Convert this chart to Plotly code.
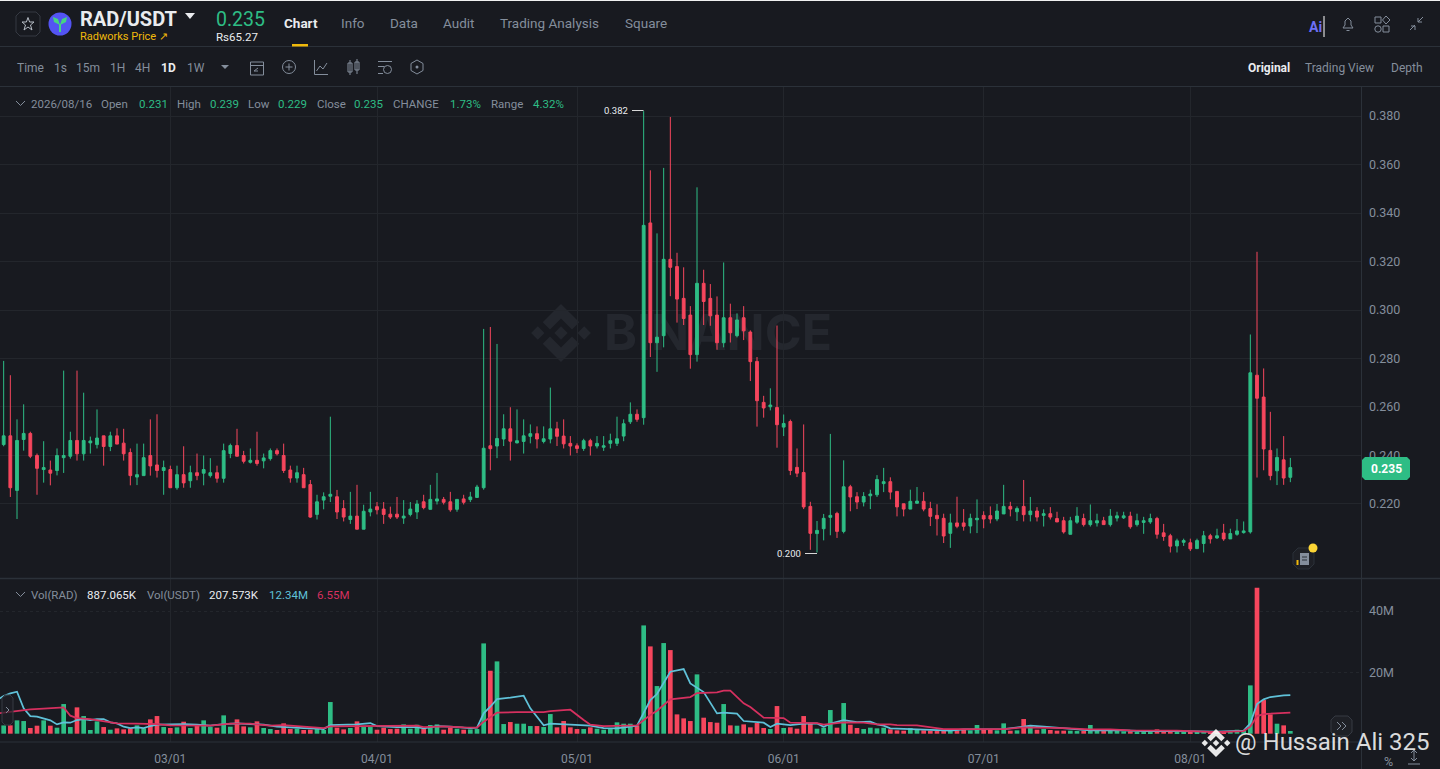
import plotly.graph_objects as go
import pandas as pd

W, H = 1440, 769
BG = "#181A20"
GRID = "#23262C"
SEP = "#2B3139"
GREEN = "#2EBD85"
RED = "#F6465D"
GRAY = "#848E9C"
FONT = "Roboto"

# daily candles, 2026-02-04 to 2026-08-16
start_date = "2026-02-04"
opens = [
    .2445, .2481, .2256, .2466, .2491, .2400, .2342, .2340, .2338, .2391,
    .2397, .2462, .2407, .2452, .2445, .2481, .2437, .2481, .2451, .2412,
    .2311, .2317, .2400, .2361, .2338, .2342, .2267, .2321, .2296, .2329,
    .2327, .2317, .2329, .2306, .2408, .2441, .2400, .2372, .2380, .2378,
    .2387, .2420, .2400, .2340, .2307, .2321, .2280, .2157, .2216, .2232,
    .2230, .2181, .2136, .2150, .2096, .2167, .2189, .2179, .2158, .2158,
    .2142, .2157, .2167, .2209, .2178, .2212, .2219, .2209, .2178, .2221,
    .2218, .2227, .2267, .2440, .2439, .2468, .2510, .2452, .2458, .2479,
    .2490, .2458, .2468, .2510, .2480, .2450, .2440, .2429, .2461, .2439,
    .2434, .2450, .2450, .2480, .2539, .2570, .2556, .3359, .2865, .2894,
    .3209, .3179, .3048, .2979, .2816, .3110, .3048, .2979, .2865, .2968,
    .2894, .2968, .2909, .2788, .2619, .2601, .2598, .2517, .2540, .2351,
    .2330, .2190, .2078, .2098, .2145, .2161, .2087, .2271, .2230, .2208,
    .2234, .2238, .2284, .2292, .2252, .2201, .2179, .2203, .2211, .2181,
    .2153, .2141, .2079, .2122, .2122, .2109, .2135, .2153, .2152, .2138,
    .2159, .2190, .2168, .2190, .2156, .2171, .2153, .2160, .2140, .2131,
    .2075, .2125, .2140, .2115, .2122, .2131, .2115, .2142, .2143, .2150,
    .2115, .2124, .2126, .2140, .2081, .2069, .2027, .2042, .2040, .2016,
    .2037, .2069, .2060, .2080, .2056, .2075, .2082, .2085, .2731, .2641,
    .2421, .2337, .2382, .2310,
]
highs = [
    .2790, .2731, .2549, .2611, .2498, .2408, .2459, .2379, .2429, .2750,
    .2498, .2750, .2659, .2478, .2590, .2481, .2498, .2512, .2510, .2429,
    .2449, .2449, .2549, .2570, .2379, .2358, .2358, .2438, .2358, .2408,
    .2400, .2389, .2358, .2449, .2449, .2510, .2419, .2429, .2498, .2408,
    .2429, .2429, .2449, .2358, .2358, .2349, .2299, .2238, .2248, .2560,
    .2258, .2216, .2250, .2279, .2197, .2250, .2208, .2208, .2189, .2229,
    .2216, .2208, .2216, .2238, .2279, .2328, .2229, .2250, .2219, .2238,
    .2250, .2279, .2922, .2930, .2860, .2570, .2599, .2590, .2549, .2528,
    .2520, .2520, .2680, .2539, .2549, .2480, .2450, .2469, .2469, .2480,
    .2480, .2490, .2560, .2549, .2619, .2590, .3820, .3576, .3316, .3586,
    .3796, .3236, .3176, .3016, .3506, .3166, .3107, .3056, .3196, .3026,
    .2986, .3016, .2916, .2806, .2646, .2677, .2936, .2569, .2548, .2429,
    .2528, .2209, .2130, .2159, .2489, .2168, .2380, .2279, .2249, .2249,
    .2259, .2319, .2349, .2310, .2252, .2201, .2259, .2270, .2249, .2209,
    .2199, .2160, .2160, .2230, .2179, .2160, .2219, .2170, .2190, .2200,
    .2279, .2209, .2190, .2299, .2229, .2187, .2178, .2187, .2168, .2147,
    .2147, .2187, .2160, .2198, .2160, .2147, .2179, .2168, .2168, .2168,
    .2160, .2147, .2160, .2147, .2118, .2077, .2057, .2057, .2057, .2057,
    .2089, .2077, .2098, .2118, .2098, .2138, .2128, .2899, .3240, .2759,
    .2580, .2429, .2480, .2390,
]
lows = [
    .2438, .2229, .2138, .2420, .2389, .2238, .2288, .2277, .2318, .2328,
    .2387, .2379, .2379, .2408, .2429, .2358, .2418, .2447, .2379, .2277,
    .2278, .2317, .2317, .2309, .2238, .2267, .2259, .2267, .2267, .2298,
    .2277, .2309, .2288, .2288, .2389, .2397, .2367, .2367, .2358, .2347,
    .2379, .2400, .2328, .2288, .2288, .2267, .2143, .2136, .2178, .2208,
    .2138, .2128, .2118, .2096, .2096, .2149, .2157, .2118, .2138, .2138,
    .2118, .2149, .2138, .2178, .2178, .2198, .2198, .2168, .2168, .2198,
    .2208, .2227, .2259, .2339, .2389, .2439, .2379, .2450, .2408, .2450,
    .2429, .2450, .2450, .2439, .2429, .2400, .2410, .2419, .2400, .2429,
    .2419, .2429, .2439, .2459, .2530, .2539, .2527, .2806, .2745, .2846,
    .3057, .2948, .2938, .2758, .2787, .2938, .2935, .2836, .2846, .2866,
    .2887, .2876, .2707, .2519, .2556, .2586, .2432, .2480, .2319, .2311,
    .2179, .2011, .2000, .2050, .2071, .2060, .2079, .2170, .2179, .2190,
    .2179, .2229, .2249, .2219, .2149, .2149, .2179, .2201, .2170, .2109,
    .2070, .2039, .2019, .2100, .2090, .2079, .2080, .2100, .2120, .2129,
    .2159, .2149, .2130, .2128, .2128, .2128, .2107, .2136, .2126, .2078,
    .2075, .2118, .2107, .2107, .2107, .2115, .2107, .2128, .2138, .2098,
    .2107, .2077, .2118, .2057, .2048, .2000, .2000, .2027, .2006, .2016,
    .2000, .2037, .2056, .2048, .2056, .2069, .2078, .2078, .2309, .2339,
    .2298, .2278, .2279, .2290,
]
closes = [
    .2481, .2267, .2462, .2491, .2397, .2347, .2350, .2327, .2400, .2400,
    .2462, .2407, .2462, .2460, .2472, .2437, .2481, .2447, .2407, .2317,
    .2321, .2391, .2357, .2338, .2350, .2267, .2321, .2287, .2329, .2317,
    .2342, .2329, .2306, .2420, .2441, .2397, .2376, .2380, .2367, .2390,
    .2420, .2407, .2338, .2307, .2329, .2267, .2146, .2209, .2230, .2240,
    .2167, .2146, .2150, .2096, .2170, .2179, .2176, .2157, .2146, .2146,
    .2150, .2179, .2200, .2185, .2219, .2221, .2207, .2176, .2219, .2207,
    .2229, .2270, .2430, .2428, .2470, .2510, .2459, .2461, .2481, .2490,
    .2468, .2469, .2510, .2479, .2448, .2439, .2429, .2461, .2439, .2450,
    .2440, .2461, .2469, .2531, .2570, .2549, .3349, .2865, .2888, .3209,
    .3176, .3045, .2965, .2816, .3110, .3035, .2976, .2865, .2968, .2906,
    .2959, .2914, .2787, .2626, .2596, .2608, .2527, .2532, .2338, .2327,
    .2188, .2079, .2091, .2141, .2153, .2087, .2271, .2229, .2208, .2231,
    .2241, .2301, .2292, .2249, .2188, .2179, .2211, .2212, .2179, .2149,
    .2139, .2068, .2122, .2108, .2108, .2141, .2141, .2138, .2138, .2171,
    .2190, .2179, .2181, .2156, .2171, .2146, .2160, .2146, .2126, .2085,
    .2131, .2150, .2115, .2131, .2131, .2115, .2150, .2151, .2151, .2106,
    .2131, .2131, .2140, .2075, .2066, .2026, .2048, .2049, .2015, .2049,
    .2069, .2056, .2069, .2056, .2078, .2089, .2089, .2741, .2636, .2427,
    .2317, .2392, .2307, .2350,
]
# volume in millions
volumes = [
    2.7, 2.72, 4.35, 4.13, 1.85, 2.61, 4.35, 2.61, 1.96, 9.67,
    2.17, 8.59, 5.76, 1.2, 4.02, 2.17, 1.3, 1.74, 1.41, 1.74,
    2.72, 1.74, 4.67, 5.76, 2.17, 1.85, 2.07, 3.91, 1.85, 2.5,
    4.35, 2.17, 1.96, 5.98, 2.28, 4.67, 2.39, 2.07, 4.02, 1.85,
    1.52, 1.2, 3.37, 1.52, 1.63, 1.2, 1.3, 1.52, 1.2, 10.33,
    1.96, 1.41, 1.85, 4.02, 2.17, 2.17, 1.3, 1.96, 1.52, 1.63,
    3.04, 1.63, 2.93, 1.52, 2.83, 3.04, 1.3, 1.96, 1.63, 1.3,
    1.41, 1.52, 29.46, 20.54, 23.59, 3.15, 3.8, 3.26, 3.26, 2.5,
    2.5, 2.17, 6.41, 2.07, 4.13, 2.07, 1.52, 1.52, 2.07, 1.63,
    1.3, 1.52, 3.7, 3.26, 3.26, 2.72, 35.33, 28.48, 15.54, 29.57,
    27.28, 6.3, 5.0, 4.13, 19.35, 5.22, 3.8, 3.59, 9.67, 2.72,
    2.61, 3.04, 2.07, 3.48, 1.85, 1.52, 9.02, 1.85, 2.07, 1.63,
    5.76, 3.15, 1.63, 1.96, 7.72, 1.96, 10.0, 2.93, 1.85, 1.52,
    1.96, 1.74, 1.96, 1.41, 1.09, .98, 1.85, 1.3, 1.09, .98,
    .87, .98, .98, 1.09, 1.2, 1.09, 2.83, 1.52, 1.3, 1.09,
    3.37, .98, 1.09, 4.78, 2.61, 1.3, 1.52, 1.2, .98, .98,
    .98, .87, .98, 2.83, 1.3, .87, .98, .87, .76, .76,
    .65, .65, .65, 1.41, 1.09, .98, .65, .65, .65, .65,
    .87, .65, .65, .65, .76, 1.3, .98, 15.76, 47.6, 10.98,
    6.3, 3.26, 2.72, .89,
]
# averages, at the days where they bend
ma_fast_days = [
    -1, 0, 1, 2, 3, 4, 5, 6, 7, 8, 9, 10, 11, 12, 13, 14, 15, 16, 17, 18, 19, 20, 21, 22, 23,
    25, 27, 29, 31, 33, 35, 37, 39, 41, 43, 45, 47, 48, 49, 51, 53, 55, 56, 59, 62, 63, 65, 67, 69,
    70, 71, 72, 73, 74, 76, 78, 79, 81, 82, 85, 88, 90, 92, 95, 96, 97, 98, 100, 102, 103, 105,
    107, 108, 110, 111, 114, 115, 116, 118, 120, 122, 123, 124, 126, 128, 130, 131, 132, 133,
    136, 139, 142, 144, 147, 150, 153, 154, 156, 159, 163, 167, 171, 176, 182, 186, 187, 188,
    189, 190, 191, 192, 193,
]
ma_fast = [
    10.98, 12.3, 13.15, 13.7, 8.26, 5.76, 5.54, 5.0, 4.35, 3.04, 3.7, 3.59, 4.46, 4.78, 4.46, 4.78,
    4.78, 3.7, 3.37, 2.28, 1.85, 2.07, 1.85, 2.5, 2.93,
    3.04, 3.15, 2.93, 2.61, 3.15, 3.37, 3.15, 2.93, 2.28, 2.17, 1.85, 1.63, 1.52, 2.83, 2.83, 3.04,
    3.48, 2.5, 2.17, 2.17, 1.74, 2.5, 2.28, 1.96,
    1.85, 1.96, 6.63, 8.8, 11.3, 11.74, 12.39, 8.26, 2.72, 3.26, 3.04, 2.61, 1.85, 1.74, 2.61, 6.63,
    10.98, 12.94, 20.22, 21.09, 16.41, 13.59,
    6.63, 6.85, 6.52, 4.13, 3.59, 2.17, 3.26, 2.83, 3.26, 3.37, 2.28, 3.26, 4.46, 3.8, 3.91, 3.04,
    2.61, 1.74,
    1.52, 1.2, .98, 1.41, 1.52, 1.52, 2.28, 2.61, 2.28, 1.74, 1.09, 1.2, .87, .87, .65, .98, 3.37, 9.67,
    11.2, 11.96, 12.28, 12.5, 12.6,
]
ma_slow_days = [
    -1, 2, 4, 6, 9, 10, 11, 13, 15, 17, 20, 23, 25, 27, 31, 34, 37, 40, 42, 45, 48, 49, 52, 55, 56,
    59, 62, 63, 66, 69,
    70, 71, 72, 74, 77, 81, 82, 85, 87, 88, 90, 95, 97, 98, 100, 103, 104, 107, 108, 109, 111, 112,
    114, 116, 117, 118, 122, 123, 126, 129, 131, 133, 134, 137, 139, 141,
    144, 147, 150, 153, 156, 159, 163, 166, 169, 173, 176, 182, 186, 187, 188, 189, 191, 193,
]
ma_slow = [
    6.63, 7.5, 7.94, 8.15, 8.59, 5.87, 5.11, 4.78, 4.02, 3.37, 3.26, 3.15, 2.72, 2.61, 2.61, 3.26,
    3.26, 2.61, 2.83, 2.28, 1.85, 2.39, 2.39, 2.61, 2.61,
    2.61, 2.61, 2.17, 2.39, 2.07,
    2.07, 1.96, 3.91, 6.85, 7.07, 7.07, 7.39, 7.83, 4.46, 2.93, 2.5, 2.72, 6.09, 7.5, 11.2, 11.96,
    13.26, 13.48, 14.02, 14.02, 9.89, 8.7,
    5.22, 5.0, 5.11, 3.59, 3.48, 2.93, 3.7, 3.59, 3.04, 3.04, 2.83, 2.72, 2.07, 1.52,
    1.52, 1.63, 1.52, 2.07, 1.96, 1.85, 1.41, 1.41, 1.09, 1.09, .98, .54, .87, 2.28, 5.76, 6.41, 6.74, 6.85,
]
month_ticks = ["2026-03-01", "2026-04-01", "2026-05-01", "2026-06-01", "2026-07-01", "2026-08-01"]
month_labels = ["03/01", "04/01", "05/01", "06/01", "07/01", "08/01"]
price_ticks = [0.22, 0.24, 0.26, 0.28, 0.30, 0.32, 0.34, 0.36, 0.38]
vol_ticks = [20, 40]
vol_labels = ["20M", "40M"]

dates = pd.date_range(start_date, periods=len(closes), freq="D")
t0 = pd.Timestamp(start_date)
vol_colors = [GREEN if c >= o else RED for o, c in zip(opens, closes)]
x_range = [t0 - pd.Timedelta(days=0.55), t0 + pd.Timedelta(days=203.6)]


def day(n):
    return t0 + pd.Timedelta(days=n)


def fx(x):
    return x / W


def fy(y):
    return 1 - y / H


shapes = []
notes = []


def txt(x, y, s, color=GRAY, size=12, anchor="left", bold=False):
    # annotations sit about 1px right of the asked position
    notes.append(dict(x=fx(x - 1), y=fy(y), xref="paper", yref="paper", text=f"<b>{s}</b>" if bold else s,
                      showarrow=False, xanchor=anchor, yanchor="middle", borderpad=0,
                      font=dict(family=FONT, size=size, color=color)))


def line(x0, y0, x1, y1, color=GRAY, w=1, layer="above"):
    shapes.append(dict(type="line", xref="paper", yref="paper", x0=fx(x0), y0=fy(y0), x1=fx(x1), y1=fy(y1),
                       line=dict(color=color, width=w), layer=layer))


def rect(x0, y0, x1, y1, fill=None, color=None, w=1, layer="above"):
    shapes.append(dict(type="rect", xref="paper", yref="paper", x0=fx(x0), y0=fy(y0), x1=fx(x1), y1=fy(y1),
                       fillcolor=fill or "rgba(0,0,0,0)", line=dict(color=color or "rgba(0,0,0,0)", width=w if color else 0),
                       layer=layer))


def circle(cx, cy, r, fill=None, color=None, w=1):
    rect_shape = dict(type="circle", xref="paper", yref="paper", x0=fx(cx - r), y0=fy(cy - r), x1=fx(cx + r), y1=fy(cy + r),
                      fillcolor=fill or "rgba(0,0,0,0)", line=dict(color=color or "rgba(0,0,0,0)", width=w if color else 0))
    shapes.append(rect_shape)


def poly(points, fill=None, color=None, w=1, closed=True, layer="above"):
    d = "M " + " L ".join(f"{fx(a):.5f} {fy(b):.5f}" for a, b in points)
    if closed:
        d += " Z"
    shapes.append(dict(type="path", xref="paper", yref="paper", path=d, fillcolor=fill or "rgba(0,0,0,0)",
                       line=dict(color=color or "rgba(0,0,0,0)", width=w if color else 0), layer=layer))


def round_rect(x0, y0, x1, y1, r, fill=None, color=None, w=1, layer="above"):
    # corners are cut, good enough at this size
    pts = [(x0 + r, y0), (x1 - r, y0), (x1, y0 + r), (x1, y1 - r), (x1 - r, y1), (x0 + r, y1), (x0, y1 - r), (x0, y0 + r)]
    poly(pts, fill, color, w, layer=layer)


def logo(cx, cy, s, color, layer="above"):
    for dx in (-0.8, 0, 0.8):
        c = cx + dx * s
        d = 0.23 * s
        poly([(c, cy - d), (c + d, cy), (c, cy + d), (c - d, cy)], fill=color, layer=layer)
    for sign in (1, -1):
        pts = [(0, 1), (-.63, .37), (-.38, .12), (0, .5), (.38, .12), (.63, .37)]
        poly([(cx + a * s, cy + sign * b * s) for a, b in pts], fill=color, layer=layer)


# panel furniture
rect(0, 0, W, 1, fill="#F0F0F0")
line(0, 46.5, W, 46.5, SEP)
line(0, 86.5, W, 86.5, SEP)
line(0, 578.5, W, 578.5, SEP, w=1.5)
line(0, 742, 1361.5, 742, SEP)
line(1361.5, 87, 1361.5, H, SEP)

# watermark goes under the candles
logo(561, 333, 29, "#24272E", layer="below")
shapes.append(dict(type="rect", xref="paper", yref="paper", x0=fx(600), y0=fy(307), x1=fx(836), y1=fy(353), layer="below",
                   line=dict(width=0), fillcolor="rgba(0,0,0,0)",
                   label=dict(text="<b>BINANCE</b>", textposition="middle center",
                              font=dict(family="Inter", size=50, color="#24272E"))))

# header row
round_rect(16, 12, 40, 36, 4, color="#363A43")
star = [(28, 17.5), (29.6, 22), (34, 22), (30.5, 25), (32, 30), (28, 27), (24, 30), (25.5, 25), (22, 22), (26.4, 22)]
poly(star, color="#B7BDC6")
circle(60, 24, 11.5, fill="#5354F3")
line(60, 32, 60, 24, "#45D483", 2)
poly([(60, 25), (54, 22), (53, 17), (58, 19)], fill="#45D483")
poly([(60, 25), (66, 22), (67, 17), (62, 19)], fill="#45D483")
txt(80, 19, "RAD/USDT", "#EAECEF", 20, bold=True)
poly([(185, 13), (195, 13), (190, 19)], fill="#EAECEF")
txt(80, 37, "Radworks Price ↗", "#F0B90B", 11)
txt(216, 19, "0.235", GREEN, 19.5)
txt(216, 37, "Rs65.27", "#EAECEF", 11.5)
txt(284, 23, "Chart", "#EAECEF", 13.5, bold=True)
for x, s in [(341, "Info"), (390, "Data"), (443, "Audit"), (500, "Trading Analysis"), (625, "Square")]:
    txt(x, 23, s, GRAY, 13.5)
rect(292, 44, 308, 46.5, fill="#F0B90B")
txt(1309, 27, "Ai", "#6C6FF5", 14, bold=True)
line(1324, 16, 1324, 37, "#FFFFFF", 1)
# bell
poly([(1343, 28), (1345, 25), (1345, 21), (1348, 18), (1351, 21), (1351, 25), (1353, 28)], color=GRAY)
line(1346.5, 30.5, 1349.5, 30.5, GRAY)
# grid
rect(1375, 17, 1381, 23, color=GRAY)
poly([(1386, 16), (1390, 20), (1386, 24), (1382.5, 20)], color=GRAY)
circle(1378, 29, 3.2, color=GRAY)
rect(1383, 26, 1389, 32, color=GRAY)
# collapse arrows
line(1410, 30, 1415, 25, GRAY)
line(1418, 22, 1423, 17, GRAY)
poly([(1418, 18), (1418, 22), (1422, 22)], color=GRAY, closed=False)
poly([(1411, 26), (1415, 26), (1415, 30)], color=GRAY, closed=False)

# toolbar row
for x, s in [(17, "Time"), (54, "1s"), (76, "15m"), (110, "1H"), (135, "4H"), (187, "1W")]:
    txt(x, 68, s, GRAY, 12)
txt(161, 68, "1D", "#EAECEF", 12, bold=True)
poly([(221, 65), (229, 65), (225, 69)], fill=GRAY)
rect(250.5, 62, 263.5, 75, color=GRAY)
line(250.5, 65.5, 263.5, 65.5, GRAY)
poly([(258, 68), (254, 71), (258, 71)], color=GRAY, closed=False)
circle(289, 67, 6.5, color=GRAY)
line(285.5, 67, 292.5, 67, GRAY)
line(289, 63.5, 289, 70.5, GRAY)
poly([(314.5, 60), (314.5, 74.5), (328, 74.5)], color=GRAY, closed=False)
poly([(316.5, 71), (320, 66), (323, 69), (327, 63)], color=GRAY, closed=False)
rect(348, 63, 352, 72, color=GRAY)
line(350, 60, 350, 75, GRAY)
rect(355, 62, 359, 70, color=GRAY)
line(357, 59, 357, 74, GRAY)
line(378, 61.5, 392, 61.5, GRAY)
line(378, 66.5, 384, 66.5, GRAY)
line(378, 73.5, 383, 73.5, GRAY)
circle(387.5, 69.5, 4, color=GRAY)
poly([(417, 60), (423, 63.5), (423, 70.5), (417, 74), (411, 70.5), (411, 63.5)], color=GRAY)
circle(417, 67, 1.5, fill=GRAY)
txt(1248, 68, "Original", "#EAECEF", 12, bold=True)
txt(1305, 68, "Trading View", GRAY, 12)
txt(1391, 68, "Depth", GRAY, 12)

# price legend
poly([(16, 101), (20.5, 105.5), (25, 101)], color=GRAY, closed=False)
legend_row = [(31, "2026/08/16", GRAY), (101, "Open", GRAY), (139, "0.231", GREEN), (177, "High", GRAY), (210, "0.239", GREEN),
              (248, "Low", GRAY), (278, "0.229", GREEN), (317, "Close", GRAY), (354, "0.235", GREEN), (393, "CHANGE", GRAY),
              (450, "1.73%", GREEN), (491, "Range", GRAY), (533, "4.32%", GREEN)]
for x, s, c in legend_row:
    txt(x, 104, s, c, 11.5)

# high / low tags
txt(604, 110.5, "0.382", "#EAECEF", 9.5)
line(632, 110.5, 643.5, 110.5, "#D8D8D8")
txt(777, 553.5, "0.200", "#EAECEF", 9.5)
line(805, 553.5, 817, 553.5, "#D8D8D8")

# last price tag
round_rect(1362, 457, 1410, 480, 3, fill=GREEN)
txt(1387, 468.5, "0.235", "#FFFFFF", 12, anchor="center", bold=True)

# floating note button
round_rect(1293, 548, 1314, 569, 5, fill="#1E2026", color="#2B3139")
rect(1300, 553, 1309, 565, fill="#848E9C")
line(1302, 557, 1307, 557, "#2B3139")
line(1302, 560, 1307, 560, "#2B3139")
rect(1296.5, 560, 1298.5, 565, fill="#F0B90B")
circle(1313, 548, 4.5, fill="#FCD535")

# volume legend
poly([(16, 592), (20.5, 596.5), (25, 592)], color=GRAY, closed=False)
for x, s, c in [(31, "Vol(RAD)", GRAY), (87, "887.065K", "#EAECEF"), (147, "Vol(USDT)", GRAY), (209, "207.573K", "#EAECEF"),
                (269, "12.34M", "#5FC1D8"), (317, "6.55M", "#D6305F")]:
    txt(x, 595, s, c, 11.5)

# little side buttons
round_rect(2, 695, 13, 725, 3, fill="rgba(30,32,38,.7)", color="#363A43")
poly([(6, 707), (9, 710), (6, 713)], color=GRAY, closed=False)
round_rect(1331, 716, 1352, 736, 4, fill="#1E2026", color="#363A43")
poly([(1337, 722), (1341, 726), (1337, 730)], color=GRAY, closed=False)
poly([(1342, 722), (1346, 726), (1342, 730)], color=GRAY, closed=False)

# bottom corner
txt(1389, 761, "%", GRAY, 12.5, anchor="center")
line(1414, 750, 1414, 761, GRAY)
poly([(1411, 753), (1414, 750), (1417, 753)], color=GRAY, closed=False)
poly([(1411, 758), (1414, 761), (1417, 758)], color=GRAY, closed=False)
line(1408, 764, 1420, 764, GRAY)

# repost stamp
logo(1216, 743, 14, "rgba(255,255,255,.9)")
txt(1235, 741.5, "@ Hussain Ali 325", "rgba(255,255,255,.85)", 24)

fig = go.Figure()
fig.add_trace(go.Candlestick(
    x=dates, open=opens, high=highs, low=lows, close=closes, xaxis="x", yaxis="y",
    increasing=dict(line=dict(color=GREEN, width=1), fillcolor=GREEN),
    decreasing=dict(line=dict(color=RED, width=1), fillcolor=RED),
    hoverinfo="skip", showlegend=False,
))
fig.add_trace(go.Bar(x=dates, y=volumes, marker=dict(color=vol_colors, line=dict(width=0)), width=0.7 * 86400000,
                     xaxis="x2", yaxis="y2", hoverinfo="skip", showlegend=False))
fig.add_trace(go.Scatter(x=[day(n) for n in ma_fast_days], y=ma_fast, mode="lines", line=dict(color="#5FC1D8", width=1.75),
                         xaxis="x2", yaxis="y2", hoverinfo="skip", showlegend=False))
fig.add_trace(go.Scatter(x=[day(n) for n in ma_slow_days], y=ma_slow, mode="lines", line=dict(color="#D6305F", width=1.75),
                         xaxis="x2", yaxis="y2", hoverinfo="skip", showlegend=False))

fig.update_layout(
    width=W, height=H, margin=dict(l=0, r=0, t=0, b=0), paper_bgcolor=BG, plot_bgcolor="rgba(0,0,0,0)",
    font=dict(family=FONT, color=GRAY, size=12), showlegend=False, shapes=shapes, annotations=notes, boxgap=0.4,
    xaxis=dict(domain=[0, 1361 / W], anchor="y", type="date", range=x_range, rangeslider=dict(visible=False),
               tickvals=month_ticks, showticklabels=False, showgrid=True, gridcolor=GRID, gridwidth=1, zeroline=False, ticks=""),
    xaxis2=dict(domain=[0, 1361 / W], anchor="y2", type="date", range=x_range, tickvals=month_ticks, ticktext=month_labels,
                showgrid=True, gridcolor=GRID, gridwidth=1, zeroline=False, ticks="", ticklabelstandoff=8,
                tickfont=dict(size=12, color=GRAY)),
    yaxis=dict(domain=[1 - 578 / H, 1 - 87 / H], anchor="x", side="right", range=[0.18948, 0.39196], tickvals=price_ticks,
               tickformat=".3f", showgrid=True, gridcolor=GRID, gridwidth=1, zeroline=False, ticks="", ticklabelstandoff=7,
               tickfont=dict(size=12.5, color=GRAY)),
    yaxis2=dict(domain=[1 - 742 / H, 1 - 579 / H], anchor="x2", side="right", range=[-2.71, 50.47], tickvals=vol_ticks,
                ticktext=vol_labels, showgrid=True, gridcolor=GRID, griddash="dot", gridwidth=1, zeroline=False, ticks="",
                ticklabelstandoff=7, tickfont=dict(size=12.5, color=GRAY)),
)

fig.write_html("out.html", config={"displayModeBar": False},
               post_script="document.body.style.margin='0';document.body.style.overflow='hidden';")
